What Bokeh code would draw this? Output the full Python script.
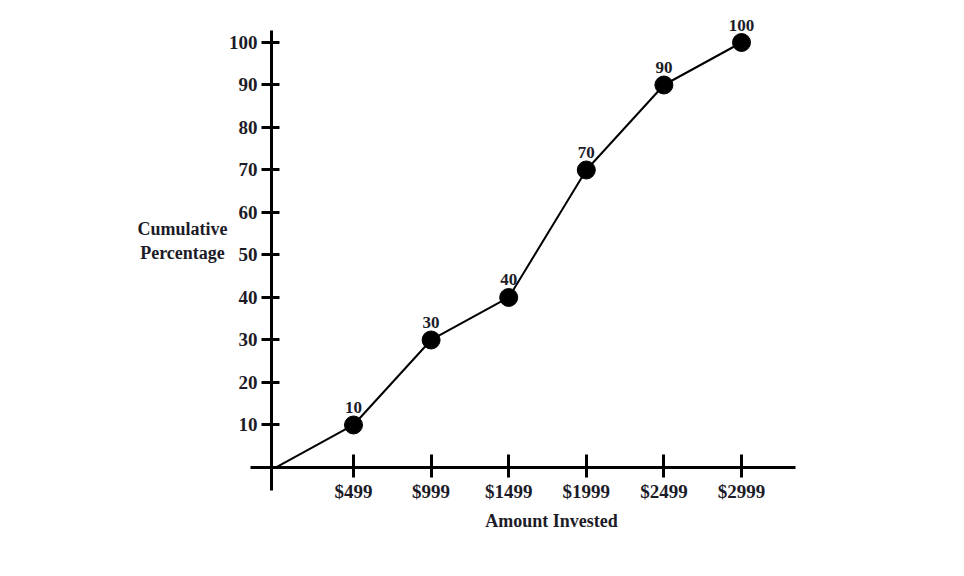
from bokeh.plotting import figure
from bokeh.models import ColumnDataSource, FixedTicker, LabelSet, Label, Range1d
from bokeh.embed import file_html
from bokeh.resources import INLINE

# Data
amounts = [0, 499, 999, 1499, 1999, 2499, 2999]
cum_pct = [0, 10, 30, 40, 70, 90, 100]
x_ticks = [499, 999, 1499, 1999, 2499, 2999]
x_tick_labels = ["$499", "$999", "$1499", "$1999", "$2499", "$2999"]
y_ticks = [10, 20, 30, 40, 50, 60, 70, 80, 90, 100]
point_labels = [str(v) for v in cum_pct[1:]]

FONT = "Liberation Serif"
TXT = "#1c1c28"

p = figure(width=964, height=576, output_backend="svg", toolbar_location=None,
           x_range=Range1d(-1388.9, 4371.4), y_range=Range1d(-16.24, 107.53),
           min_border_left=60, min_border_right=10,
           min_border_top=10, min_border_bottom=40)
p.outline_line_color = None
p.grid.visible = False
p.background_fill_color = "white"
p.border_fill_color = "white"

xa = p.xaxis[0]
xa.fixed_location = 0
xa.bounds = (-164.7, 3347)
xa.ticker = FixedTicker(ticks=x_ticks)
xa.major_label_overrides = {t: l for t, l in zip(x_ticks, x_tick_labels)}
xa.axis_line_width = 3
xa.axis_line_color = "black"
xa.major_tick_line_width = 3
xa.major_tick_line_color = "black"
xa.major_tick_in = 13
xa.major_tick_out = 10
xa.minor_tick_line_color = None
xa.major_label_standoff = 4
xa.major_label_text_font = FONT
xa.major_label_text_font_style = "bold"
xa.major_label_text_font_size = "19px"
xa.major_label_text_color = TXT

ya = p.yaxis[0]
ya.fixed_location = -29.4
ya.bounds = (-5.41, 102.82)
ya.ticker = FixedTicker(ticks=y_ticks)
ya.axis_line_width = 3
ya.axis_line_color = "black"
ya.major_tick_line_width = 3
ya.major_tick_line_color = "black"
ya.major_tick_in = 8
ya.major_tick_out = 10
ya.minor_tick_line_color = None
ya.major_label_standoff = 4
ya.major_label_text_font = FONT
ya.major_label_text_font_style = "bold"
ya.major_label_text_font_size = "19px"
ya.major_label_text_color = TXT

p.line(amounts, cum_pct, line_width=2, line_color="black")
p.scatter(amounts[1:], cum_pct[1:], size=18, fill_color="black", line_color="black")

src = ColumnDataSource(dict(x=amounts[1:], y=cum_pct[1:], t=point_labels))
p.add_layout(LabelSet(x="x", y="y", text="t", source=src, y_offset=12,
                      text_align="center", text_baseline="bottom",
                      text_font=FONT, text_font_style="bold",
                      text_font_size="17px", text_color=TXT))

p.add_layout(Label(x=-603, y=53.4, text="Cumulative\nPercentage",
                   text_align="center", text_baseline="middle",
                   text_font=FONT, text_font_style="bold",
                   text_font_size="18px", text_color=TXT, text_line_height=1.2))
p.add_layout(Label(x=1775, y=-12.7, text="Amount Invested",
                   text_align="center", text_baseline="middle",
                   text_font=FONT, text_font_style="bold",
                   text_font_size="18px", text_color=TXT))

open("out.html", "w").write(file_html(p, INLINE))
